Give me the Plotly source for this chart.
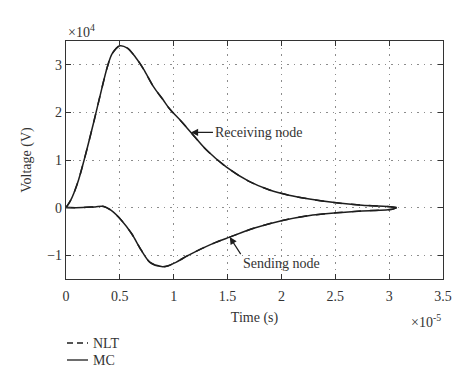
import plotly.graph_objects as go

# Time in units of 1e-5 s, voltage in units of 1e4 V
time_recv = [0, 0.043, 0.105, 0.167, 0.26, 0.33, 0.383, 0.43, 0.5, 0.57, 0.645, 0.72,
             0.815, 0.9, 0.963, 1.055, 1.16, 1.3, 1.49, 1.7, 1.89, 2.07, 2.26, 2.51,
             2.75, 3.03, 3.07]
v_recv = [0, 0.15, 0.5, 0.99, 1.82, 2.48, 2.95, 3.24, 3.40, 3.35, 3.16, 2.91,
          2.53, 2.27, 2.07, 1.85, 1.58, 1.22, 0.85, 0.55, 0.37, 0.26, 0.18, 0.10,
          0.05, 0.015, 0.0]

time_send = [0, 0.15, 0.27, 0.35, 0.42, 0.516, 0.61, 0.70, 0.78, 0.886, 0.95, 1.02, 1.13,
             1.29, 1.39, 1.52, 1.75, 2.01, 2.25, 2.51, 2.75, 3.03, 3.07]
v_send = [0, 0.0, 0.015, 0.025, -0.06, -0.27, -0.55, -0.90, -1.15, -1.24, -1.22, -1.15, -1.01,
          -0.83, -0.73, -0.62, -0.43, -0.27, -0.17, -0.11, -0.07, -0.035, 0.0]

x_ticks = [0, 0.5, 1, 1.5, 2, 2.5, 3, 3.5]
x_tick_labels = ["0", "0.5", "1", "1.5", "2", "2.5", "3", "3.5"]
y_ticks = [-1, 0, 1, 2, 3]
y_tick_labels = ["\u22121", "0", "1", "2", "3"]
legend_names = ["NLT", "MC"]
legend_dashes = ["6px,4px", "solid"]

FONT = "Liberation Serif"
LINE = "#1e1e1e"
TXT = "#333333"

W, H = 450, 364
ML, MT = 58, 33
PW, PH = 377, 238
MR, MB = W - ML - PW, H - MT - PH

fig = go.Figure()
# NLT (dashed) and MC (solid) curves coincide
for name, dash in zip(legend_names, ["dash", "solid"]):
    fig.add_trace(go.Scatter(x=time_recv, y=v_recv, mode="lines", name=name,
                             line=dict(color=LINE, width=1.5, dash=dash,
                                       shape="spline", smoothing=0.9),
                             legendgroup=name, showlegend=False))
    fig.add_trace(go.Scatter(x=time_send, y=v_send, mode="lines", name=name,
                             line=dict(color=LINE, width=1.5, dash=dash,
                                       shape="spline", smoothing=0.9),
                             legendgroup=name, showlegend=False))

axis_common = dict(
    showline=True, linecolor="#333333", linewidth=1.2, mirror="ticks",
    ticks="inside", ticklen=5, tickcolor="#333333", automargin=False,
    showgrid=True, gridcolor="#8c8c8c", griddash="1.5px,5px", gridwidth=1,
    zeroline=False, tickfont=dict(family=FONT, size=14, color=TXT),
)

# the page body adds an 8px offset; the figure is sized to fit the window
fig.update_layout(
    width=W, height=H,
    margin=dict(l=ML, r=MR, t=MT, b=MB),
    paper_bgcolor="white", plot_bgcolor="white",
    font=dict(family=FONT, size=14, color=TXT),
    showlegend=False,
    xaxis=dict(range=[0, 3.5], tickvals=x_ticks, ticktext=x_tick_labels,
               ticklabelstandoff=4,
               title=dict(text="Time (s)", font=dict(family=FONT, size=14, color=TXT),
                          standoff=9),
               **axis_common),
    yaxis=dict(range=[-1.5, 3.5], tickvals=y_ticks, ticktext=y_tick_labels,
               title=dict(text="Voltage (V)", font=dict(family=FONT, size=14, color=TXT),
                          standoff=12),
               **axis_common),
)


def px_x(fx):
    return (fx - ML) / PW


def px_y(fy):
    return 1 - (fy - MT) / PH


# legend drawn below the axes (figure pixel positions)
for i, (name, dash) in enumerate(zip(legend_names, legend_dashes)):
    yy = 335 + 17 * i
    fig.add_shape(type="line", xref="paper", yref="paper",
                  x0=px_x(59), x1=px_x(80), y0=px_y(yy), y1=px_y(yy),
                  line=dict(color=LINE, width=1.3, dash=dash))
    fig.add_annotation(xref="paper", yref="paper", x=px_x(83), y=px_y(yy),
                       xanchor="left", yanchor="middle", showarrow=False,
                       text=name, font=dict(family=FONT, size=14, color=TXT))

# exponent labels
fig.add_annotation(xref="paper", yref="paper", x=0.0, y=1.0, yshift=-1,
                   xanchor="left", yanchor="bottom", showarrow=False,
                   text="\u00d710<sup>4</sup>", font=dict(family=FONT, size=14, color=TXT))
fig.add_annotation(xref="paper", yref="paper", x=1.0, y=0, yshift=-31,
                   xanchor="right", yanchor="top", showarrow=False,
                   text="\u00d710<sup>-5</sup>", font=dict(family=FONT, size=14, color=TXT))

# node labels with arrows
fig.add_annotation(x=1.16, y=1.58, ax=22, ay=0, axref="pixel", ayref="pixel",
                   text="Receiving node", showarrow=True, arrowhead=2, arrowsize=1.2,
                   arrowwidth=1.2, arrowcolor=LINE, xanchor="left",
                   font=dict(family=FONT, size=14, color=TXT))
fig.add_annotation(x=1.52, y=-0.62, ax=11, ay=17, axref="pixel", ayref="pixel",
                   text="Sending node", showarrow=True, arrowhead=2, arrowsize=1.2,
                   arrowwidth=1.2, arrowcolor=LINE, xanchor="left", yanchor="top",
                   font=dict(family=FONT, size=14, color=TXT))

fig.write_html("out.html")
